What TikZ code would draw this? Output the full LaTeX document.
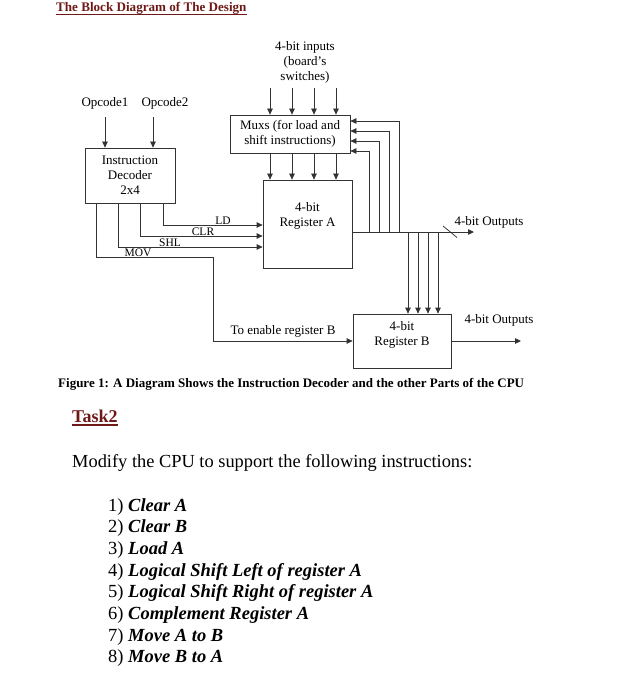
\documentclass[tikz,border=0pt]{standalone}
\usepackage{fontspec}
\setmainfont{Liberation Serif}
\usetikzlibrary{arrows.meta,calc}
\definecolor{titlered}{HTML}{6E1818}
\newcommand{\diafont}{\fontsize{13}{15}\selectfont}
\newcommand{\sigfont}{\fontsize{11.5}{13}\selectfont}
\begin{document}
\begin{tikzpicture}[x=1pt,y=-1pt,
  wire/.style={draw=black!80, line width=0.75pt},
  arr/.style={wire, -{Triangle[length=6pt,width=5.5pt]}},
  box/.style={draw=black!80, line width=0.75pt, inner sep=0pt, align=center, font=\diafont},
  txt/.style={inner sep=0pt, align=center, font=\diafont},
  sig/.style={inner sep=0pt, anchor=base, font=\sigfont},
  body/.style={inner sep=0pt, anchor=base west, font=\fontsize{18.5}{21}\selectfont},
]
\useasboundingbox (0,0) rectangle (629,700);

% title
\node[anchor=base west, inner sep=0pt, font=\fontsize{13.1}{15}\selectfont\bfseries, text=titlered] (title) at (56,12) {The Block Diagram of The Design};
\draw[titlered, line width=1.3pt] ([yshift=-2.6pt]title.base west) -- ([yshift=-2.6pt]title.base east);

% inputs
\node[txt] (inputs) at (305,62) {4-bit inputs\\(board’s\\switches)};
\node[txt, anchor=base] (op1) at (105,107) {Opcode1};
\node[txt, anchor=base] (op2) at (165,107) {Opcode2};

% boxes
\node[box, minimum width=120pt, minimum height=38pt] (mux) at (290,134) {Muxs (for load and\\shift instructions)};
\node[box, minimum width=90pt, minimum height=55pt] (dec) at (130,175.5) {Instruction\\Decoder\\2x4};
\node[box, minimum width=89pt, minimum height=88pt] (regA) at (307.5,224) {};
\node[txt] (regAt) at (307.5,215.5) {4-bit\\Register A};
\node[box, minimum width=98pt, minimum height=54pt] (regB) at (402,341) {};
\node[txt] (regBt) at (402,334.5) {4-bit\\Register B};

% opcode arrows
\coordinate (o1) at (105,117);
\coordinate (o2) at (153,117);
\draw[arr] (o1) -- (o1 |- dec.north);
\draw[arr] (o2) -- (o2 |- dec.north);

% switch inputs to mux, mux to register A
\foreach \x [count=\i] in {270,292,314,336} {
  \coordinate (in\i) at (\x,88);
  \draw[arr] (in\i) -- (in\i |- mux.north);
  \draw[arr] (in\i |- mux.south) -- (in\i |- regA.north);
}

% decoder outputs
\draw[arr] (dec.south -| 163,0) |- (regA.west |- 0,225);
\draw[arr] (dec.south -| 140,0) |- (regA.west |- 0,236);
\draw[arr] (dec.south -| 118,0) |- (regA.west |- 0,247);
\coordinate (movc) at (213,257);
\draw[arr] (dec.south -| 96,0) |- (movc) |- (regB.west);
\node[sig] (ld) at (223,224.5) {LD};
\node[sig] (clr) at (203,235.5) {CLR};
\node[sig] (shl) at (170,246.5) {SHL};
\node[sig] (mov) at (138,257) {MOV};
\node[txt, anchor=base] (enB) at (283,334) {To enable register B};

% register A output
\coordinate (outA) at (474,232);
\draw[arr] (regA.east |- outA) -- (outA);
\coordinate (sl1) at (443,226);
\coordinate (sl2) at (457,237.5);
\draw[wire] (sl1) -- (sl2);
\node[txt, anchor=base] (outAt) at (489,226) {4-bit Outputs};

% feedback to mux
\foreach \x/\y in {369/151,379/141,389/131,399/121} {
  \coordinate (fb) at (\x,232);
  \draw[arr] (fb) |- (mux.east |- 0,\y);
}
% to register B
\foreach \x in {408,418,428,438} {
  \coordinate (tb) at (\x,232);
  \draw[arr] (tb) -- (tb |- regB.north);
}

% register B output
\coordinate (outB) at (521,341);
\draw[arr] (regB.east) -- (outB);
\node[txt, anchor=base] (outBt) at (499,323) {4-bit Outputs};

% caption
\node[anchor=base west, inner sep=0pt, font=\fontsize{13}{15}\selectfont\bfseries] (cap) at (58,387) {Figure 1: A Diagram Shows the Instruction Decoder and the other Parts of the CPU};

% task
\node[anchor=base west, inner sep=0pt, font=\fontsize{18}{20}\selectfont\bfseries, text=titlered] (task) at (72,422) {Task2};
\draw[titlered, line width=1.4pt] ([yshift=-2.8pt]task.base west) -- ([yshift=-2.8pt]task.base east);

\node[body, font=\fontsize{18.4}{21}\selectfont] (modify) at (72,467) {Modify the CPU to support the following instructions:};
\node[body] (it1) at (108,511) {1) \textbf{\textit{Clear A}}};
\node[body] (it2) at (108,532.7) {2) \textbf{\textit{Clear B}}};
\node[body] (it3) at (108,554.4) {3) \textbf{\textit{Load A}}};
\node[body] (it4) at (108,576.1) {4) \textbf{\textit{Logical Shift Left of register A}}};
\node[body] (it5) at (108,597.8) {5) \textbf{\textit{Logical Shift Right of register A}}};
\node[body] (it6) at (108,619.5) {6) \textbf{\textit{Complement Register A}}};
\node[body] (it7) at (108,641.2) {7) \textbf{\textit{Move A to B}}};
\node[body] (it8) at (108,662.9) {8) \textbf{\textit{Move B to A}}};
\end{tikzpicture}
\end{document}
